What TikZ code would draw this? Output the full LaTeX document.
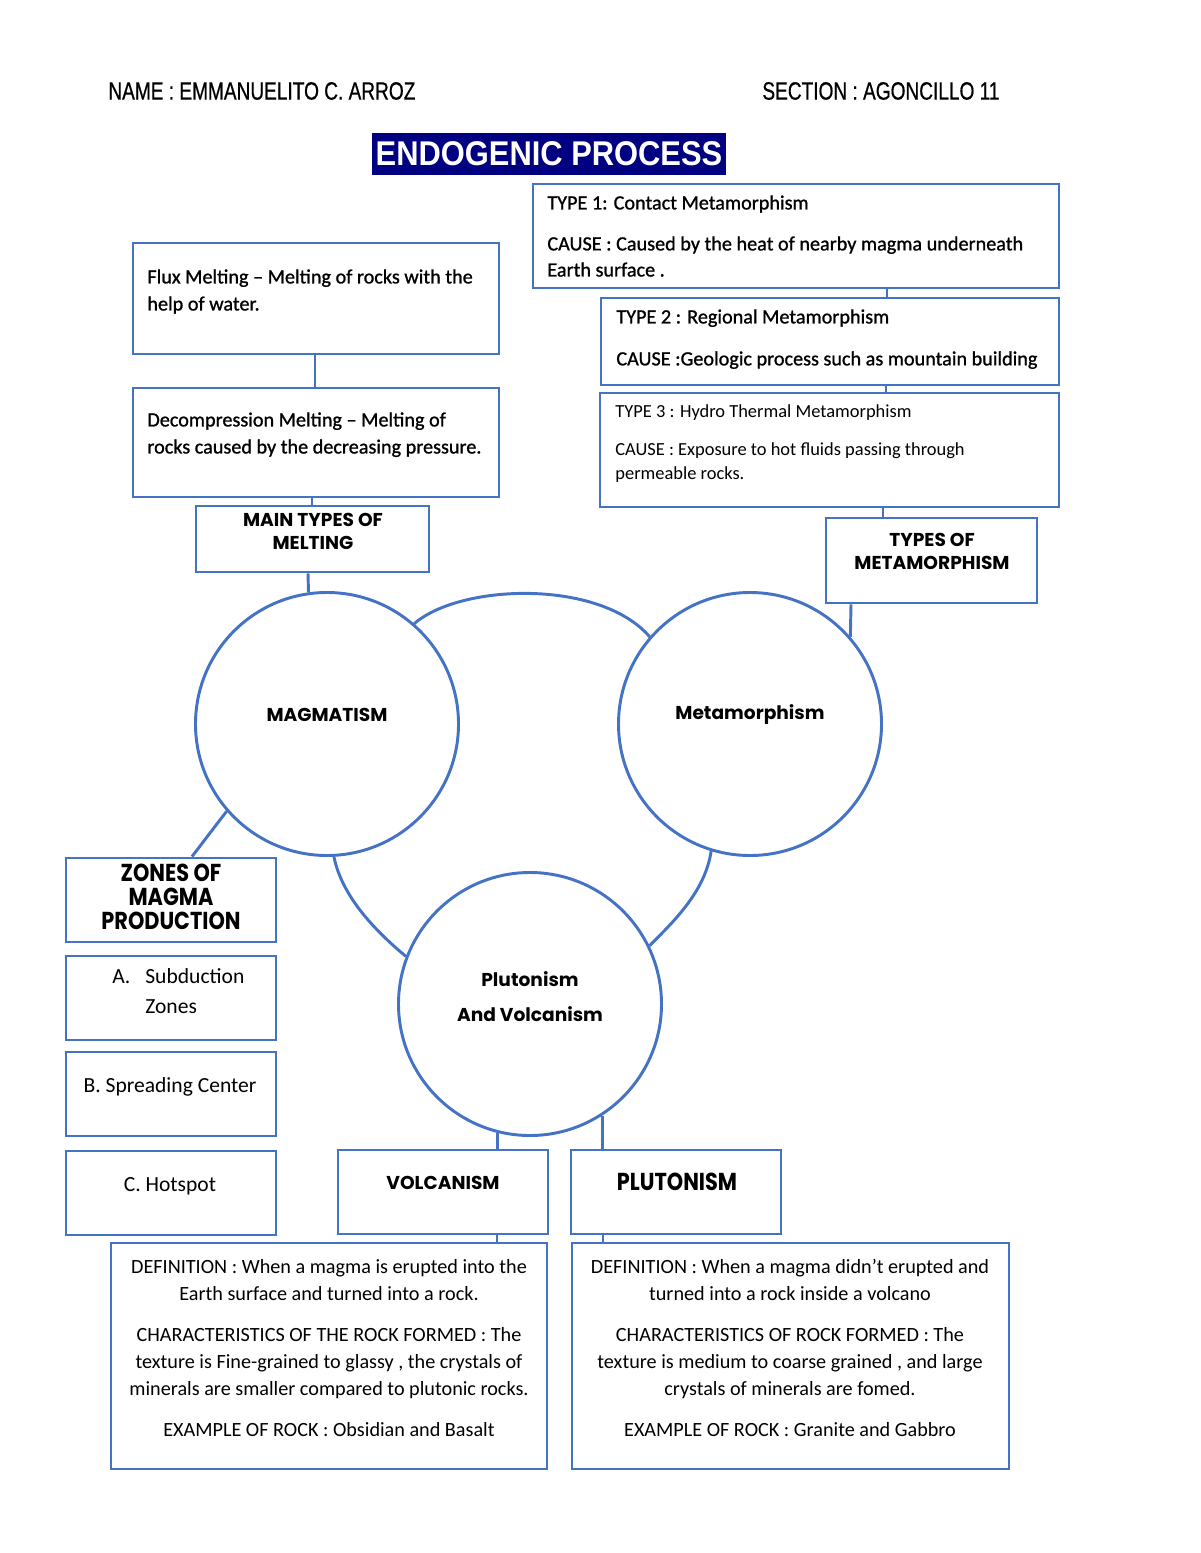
\documentclass[tikz,border=0pt]{standalone}
\usepackage{fontspec}
\setmainfont{Carlito}
\newfontfamily\semifont{Carlito}[FakeBold=1]
\newfontfamily\hdfont{Poppins}
\newfontfamily\cndfont{Poppins}[FakeStretch=0.85]
\newfontfamily\hdrfont{Liberation Sans}[FakeStretch=0.76, FakeBold=0.6]
\newfontfamily\ttlfont{Liberation Sans}[FakeStretch=0.9]
\definecolor{boxblue}{HTML}{4472C4}
\definecolor{navy}{HTML}{000080}
\begin{document}
\begin{tikzpicture}[x=0.51pt, y=-0.51pt,
  pbox/.style 2 args={draw=boxblue, line width=1.5pt, minimum width=#1*0.51pt, minimum height=#2*0.51pt, inner sep=0pt},
  ring/.style={circle, draw=boxblue, line width=1.5pt, minimum size=263*0.51pt, inner sep=0pt},
  link/.style={draw=boxblue, line width=1.5pt},
  txt/.style={inner sep=0pt, align=left, anchor=north west},
  ctxt/.style={inner sep=0pt, align=center},
  hd/.style={ctxt, font=\hdfont\bfseries\fontsize{9.5}{11.5}\selectfont}]
\useasboundingbox (0,0) rectangle (1200,1553);

\node[inner sep=0pt, anchor=west, font=\hdrfont\fontsize{12.8}{14}\selectfont] (name) at (108,91) {NAME : EMMANUELITO C. ARROZ};
\node[inner sep=0pt, anchor=west, font=\hdrfont\fontsize{12.8}{14}\selectfont] (section) at (762,91) {SECTION : AGONCILLO 11};
\node[fill=navy, text=white, inner sep=0pt, minimum width=354*0.51pt, minimum height=42*0.51pt, font=\ttlfont\bfseries\fontsize{17.5}{18}\selectfont] (title) at (549,154) {ENDOGENIC PROCESS};

\node[pbox={526}{104}] (type1) at (796,236) {};
\node[pbox={458}{87}] (type2) at (830,341.5) {};
\node[pbox={459}{114}] (type3) at (829.5,450) {};
\node[pbox={211}{85}] (typesM) at (931.5,560.5) {};
\node[pbox={366}{111}] (flux) at (316,298.5) {};
\node[pbox={366}{109}] (decomp) at (316,442.5) {};
\node[pbox={233}{66}] (mainT) at (312.5,539) {};
\node[pbox={210}{84}] (zones) at (171,900) {};
\node[pbox={210}{84}] (zoneA) at (171,998) {};
\node[pbox={210}{84}] (zoneB) at (171,1094) {};
\node[pbox={210}{84}] (zoneC) at (171,1193) {};
\node[pbox={210}{84}] (volc) at (443,1192) {};
\node[pbox={210}{84}] (pluto) at (676,1192) {};
\node[pbox={436}{226}] (volcDef) at (329,1356) {};
\node[pbox={437}{226}] (plutoDef) at (790.5,1356) {};

\node[ring] (mag) at (327,724) {};
\node[ring] (meta) at (750,724) {};
\node[ring] (plv) at (530,1004) {};

\node[txt, font=\semifont\fontsize{10.3}{13.3}\selectfont] (type1txt) at (547,195) {TYPE 1: Contact Metamorphism\\[7.6pt]CAUSE : Caused by the heat of nearby magma underneath\\Earth surface .};
\node[txt, font=\semifont\fontsize{10.3}{13.3}\selectfont] (type2txt) at (616,309) {TYPE 2 : Regional Metamorphism\\[8.1pt]CAUSE :Geologic process such as mountain building};
\node[txt, font=\fontsize{9.4}{12.2}\selectfont] (type3txt) at (615,404) {TYPE 3 : Hydro Thermal Metamorphism\\[7.2pt]CAUSE : Exposure to hot fluids passing through\\permeable rocks.};
\node[txt, font=\semifont\fontsize{10.3}{13.8}\selectfont] (fluxtxt) at (147,269) {Flux Melting – Melting of rocks with the\\help of water.};
\node[txt, font=\semifont\fontsize{10.3}{13.8}\selectfont] (decomptxt) at (147,412) {Decompression Melting – Melting of\\rocks caused by the decreasing pressure.};

\node[hd] (mainTtxt) at (313,531.5) {MAIN TYPES OF\\MELTING};
\node[hd] (typesMtxt) at (932,551.5) {TYPES OF\\METAMORPHISM};
\node[hd] (magtxt) at (327,715) {MAGMATISM};
\node[hd] (metatxt) at (750,715) {Metamorphism};
\node[ctxt, font=\hdfont\bfseries\fontsize{9.5}{17.9}\selectfont] (plvtxt) at (530,997) {Plutonism\\And Volcanism};
\node[ctxt, font=\cndfont\bfseries\fontsize{12.5}{12.2}\selectfont] (zonestxt) at (171,897) {ZONES OF\\MAGMA\\PRODUCTION};
\node[txt, font=\fontsize{11}{15.3}\selectfont] (zoneAtxt) at (112,968) {\makebox[16.8pt][l]{A.}Subduction\\\hspace*{16.8pt}Zones};
\node[ctxt, font=\fontsize{11}{13}\selectfont] (zoneBtxt) at (170,1087) {B. Spreading Center};
\node[ctxt, font=\fontsize{11}{13}\selectfont] (zoneCtxt) at (170,1186) {C. Hotspot};
\node[hd] (volctxt) at (443,1183) {VOLCANISM};
\node[ctxt, font=\cndfont\bfseries\fontsize{12.5}{14}\selectfont] (plutotxt) at (677,1182) {PLUTONISM};

\node[ctxt, anchor=north, font=\fontsize{10.3}{13.8}\selectfont] (volcDeftxt) at (329,1259) {DEFINITION : When a magma is erupted into the\\Earth surface and turned into a rock.\\[7.1pt]CHARACTERISTICS OF THE ROCK FORMED : The\\texture is Fine-grained to glassy , the crystals of\\minerals are smaller compared to plutonic rocks.\\[7.1pt]EXAMPLE OF ROCK : Obsidian and Basalt};
\node[ctxt, anchor=north, font=\fontsize{10.3}{13.8}\selectfont] (plutoDeftxt) at (790,1259) {DEFINITION : When a magma didn’t erupted and\\turned into a rock inside a volcano\\[7.1pt]CHARACTERISTICS OF ROCK FORMED : The\\texture is medium to coarse grained , and large\\crystals of minerals are fomed.\\[7.1pt]EXAMPLE OF ROCK : Granite and Gabbro};

\draw[link] (887,0 |- type1.south) -- (887,0 |- type2.north);
\draw[link] (886,0 |- type2.south) -- (886,0 |- type3.north);
\draw[link] (883,0 |- type3.south) -- (883,0 |- typesM.north);
\draw[link] (851,0 |- typesM.south) -- (meta.41);
\draw[link] (315,0 |- flux.south) -- (315,0 |- decomp.north);
\draw[link] (312,0 |- decomp.south) -- (312,0 |- mainT.north);
\draw[link] (308,0 |- mainT.south) -- (mag.98);
\draw[link] (192,0 |- zones.north) -- (mag.-139);
\draw[link] (mag.49) .. controls +(46,-40) and +(-50,-58) .. (meta.139);
\draw[link] (mag.-87) .. controls +(8,40) and +(-30,-25) .. (plv.159);
\draw[link] (meta.-107) .. controls +(-6,40) and +(25,-25) .. (plv.26);
\draw[link] (plv.-104) -- (plv.-104 |- volc.north);
\draw[link] (plv.-57) -- (plv.-57 |- pluto.north);
\draw[link] (497,0 |- volc.south) -- (497,0 |- volcDef.north);
\draw[link] (603,0 |- pluto.south) -- (603,0 |- plutoDef.north);
\end{tikzpicture}
\end{document}
